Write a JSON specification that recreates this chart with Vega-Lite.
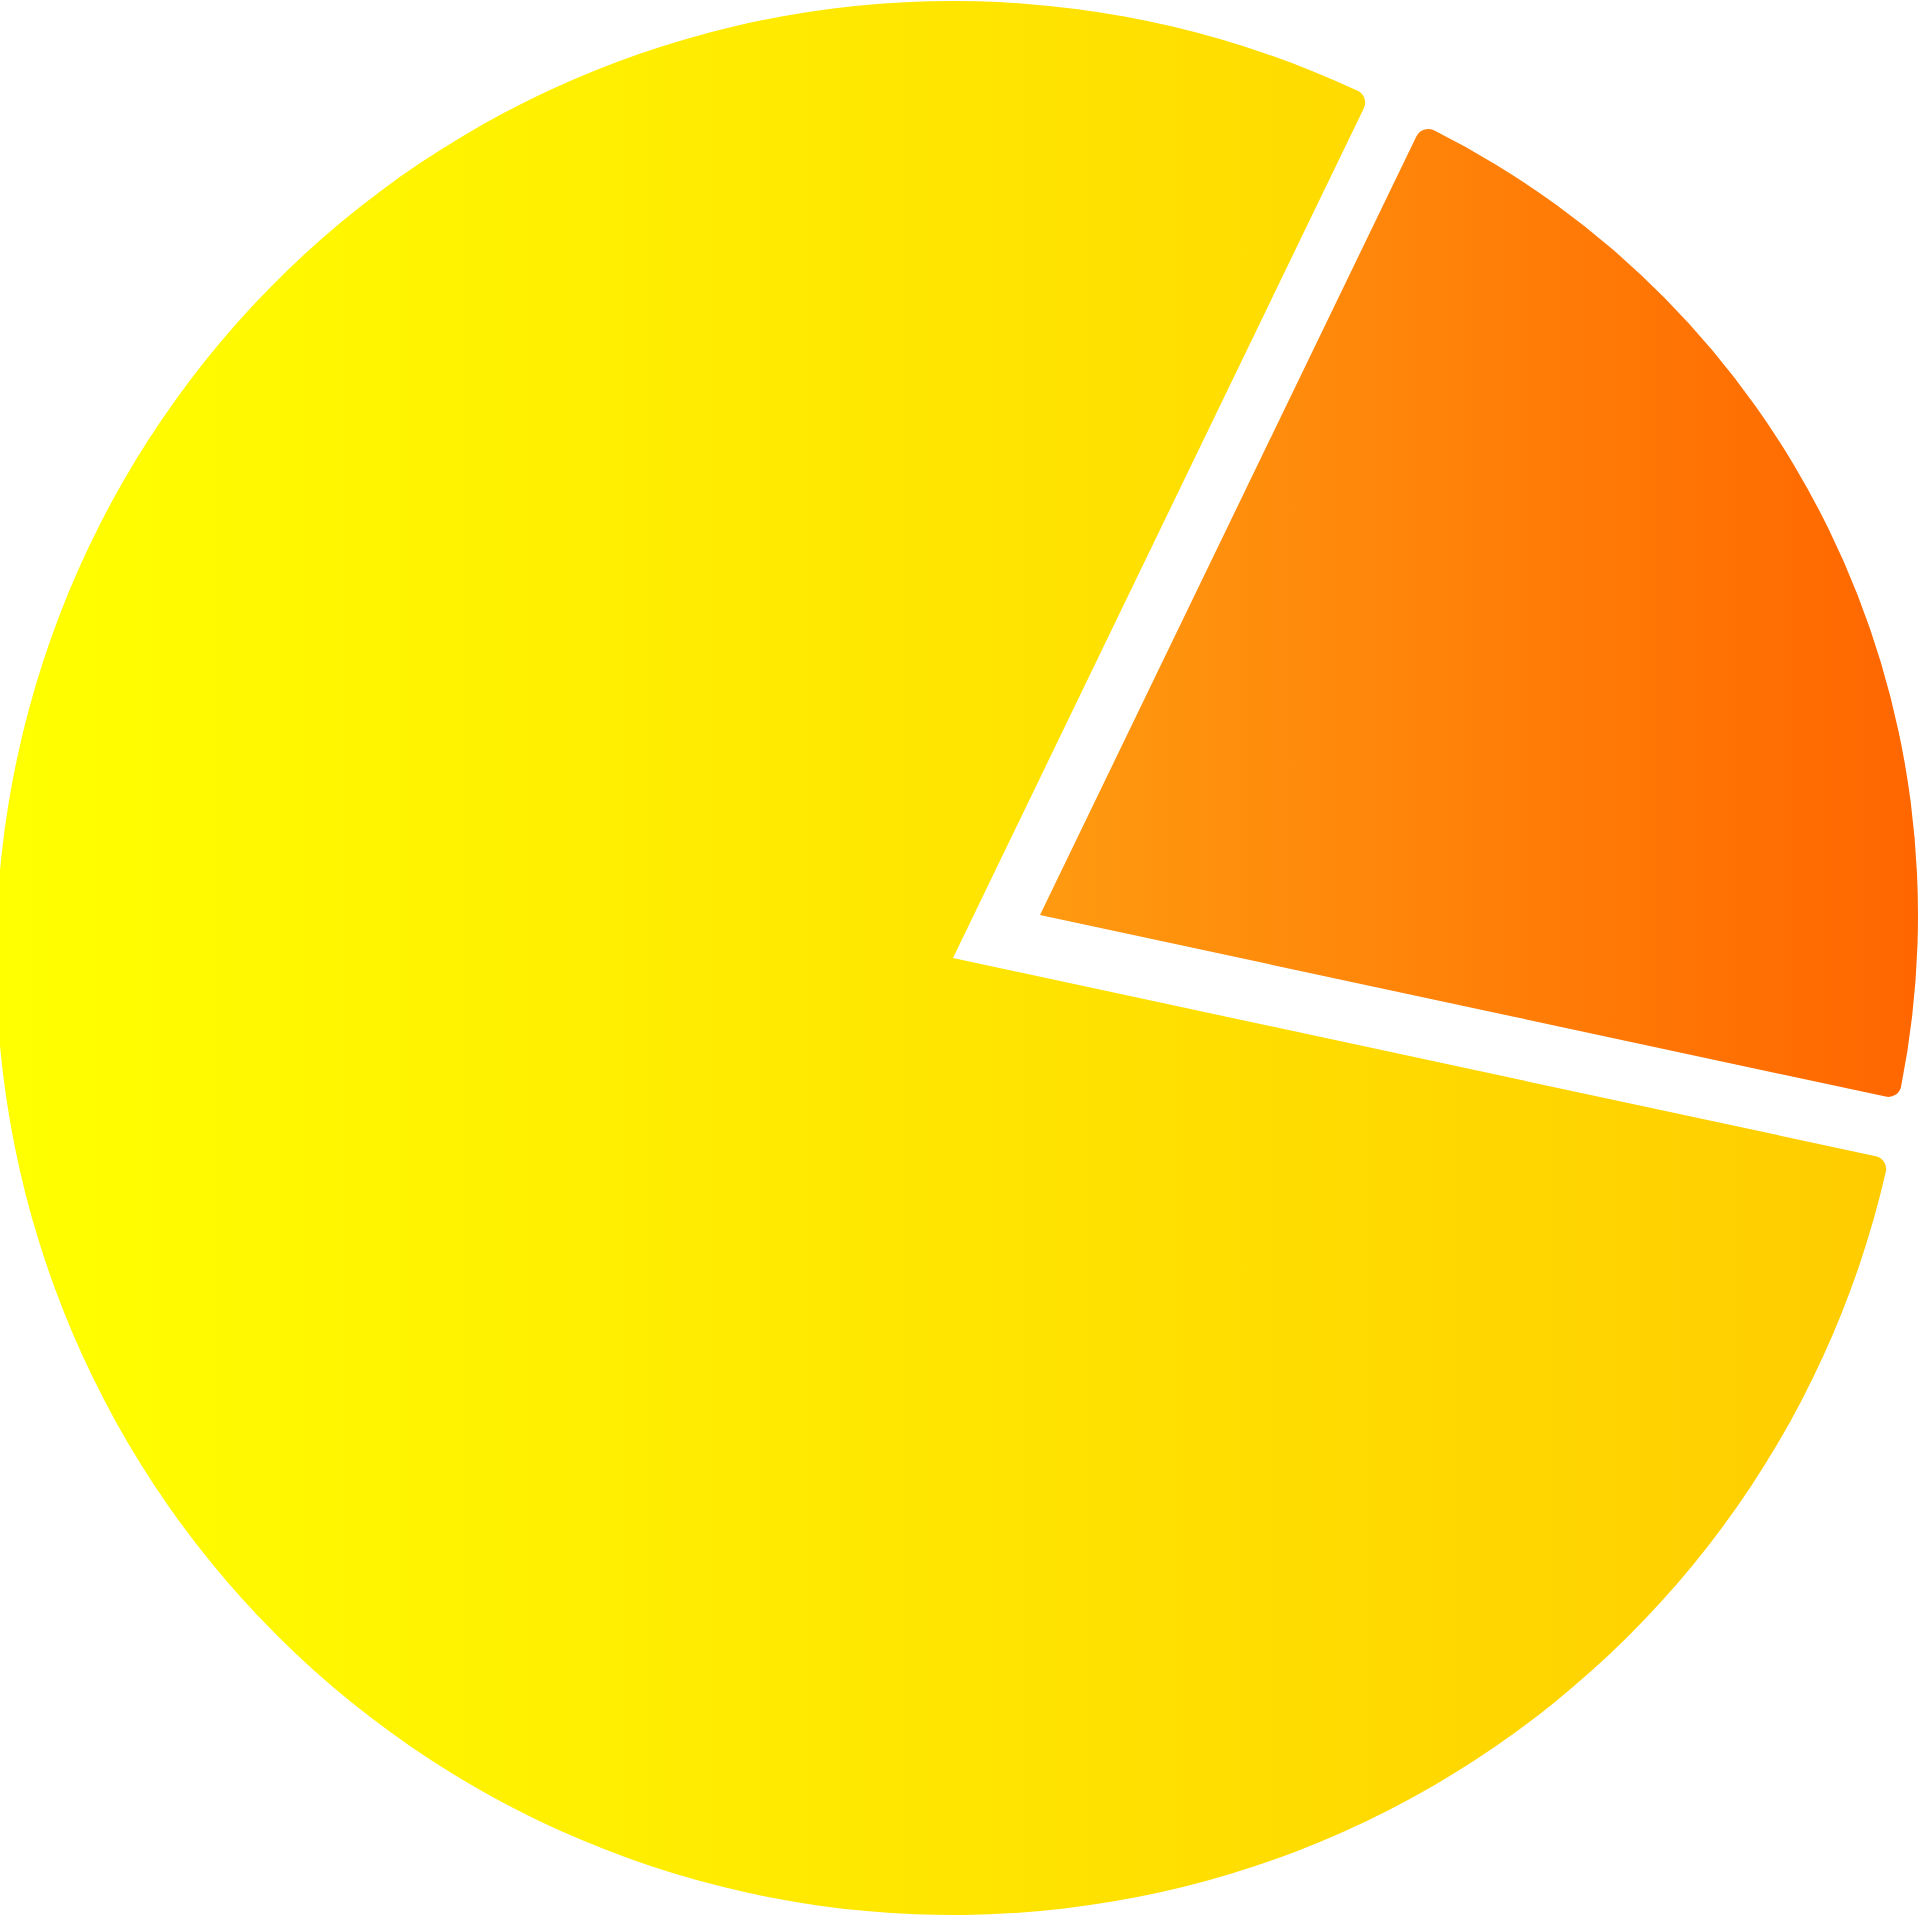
{
  "$schema": "https://vega.github.io/schema/vega-lite/v6.json",
  "width": 1906,
  "height": 1916,
  "padding": {"left": 0, "right": 14, "top": 0, "bottom": 0},
  "autosize": "none",
  "background": "white",
  "data": {
    "values": [
      {"slice": "small", "value": 21.2},
      {"slice": "large", "value": 78.8}
    ]
  },
  "transform": [
    {"stack": "value", "groupby": [], "as": ["v0", "v1"], "sort": [{"field": "value", "order": "ascending"}]}
  ],
  "encoding": {
    "theta": {
      "field": "v0",
      "type": "quantitative",
      "scale": {"domain": [0, 100], "range": [0.4503, 6.7335]}
    },
    "theta2": {"field": "v1"}
  },
  "layer": [
    {
      "transform": [{"filter": "datum.slice === 'large'"}],
      "mark": {
        "type": "arc",
        "radius": 957,
        "cornerRadius": 13,
        "fill": {
          "gradient": "linear",
          "x1": 0, "y1": 0, "x2": 1, "y2": 0,
          "stops": [
            {"offset": 0, "color": "#FFFF00"},
            {"offset": 1, "color": "#FFCC00"}
          ]
        }
      }
    },
    {
      "transform": [{"filter": "datum.slice === 'small'"}],
      "mark": {
        "type": "arc",
        "radius": 878,
        "cornerRadius": 13,
        "xOffset": 87,
        "yOffset": -43,
        "fill": {
          "gradient": "linear",
          "x1": 0, "y1": 0, "x2": 1, "y2": 0,
          "stops": [
            {"offset": 0, "color": "#FF9A10"},
            {"offset": 1, "color": "#FF6600"}
          ]
        }
      }
    }
  ],
  "config": {
    "view": {"stroke": null},
    "style": {"cell": {"stroke": "transparent"}}
  }
}
